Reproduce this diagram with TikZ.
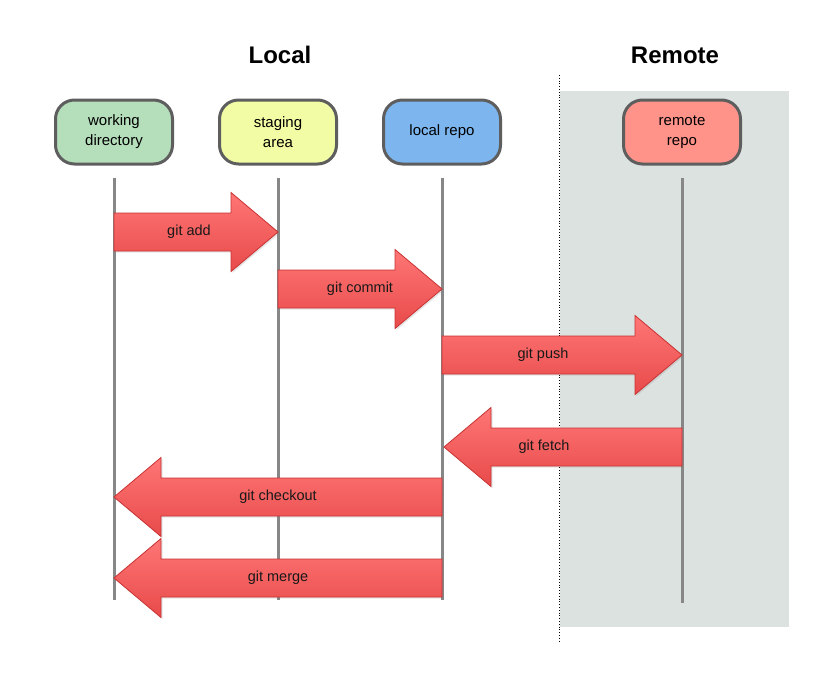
\documentclass[tikz,border=0pt]{standalone}
\usepackage{fontspec}
\setmainfont{Liberation Sans}
\usetikzlibrary{calc,shadows}
\definecolor{wdgreen}{HTML}{B5DEBB}
\definecolor{sayellow}{HTML}{F2FCA4}
\definecolor{lrblue}{HTML}{7DB6EE}
\definecolor{rrpink}{HTML}{FF938A}
\definecolor{remotegray}{HTML}{DCE2DF}
\definecolor{repoline}{HTML}{5E5E5E}
\definecolor{lifegray}{HTML}{878787}
\definecolor{arrowtop}{HTML}{FF7676}
\definecolor{arrowbot}{HTML}{E84A4A}
\definecolor{arrowline}{HTML}{C83232}
\tikzset
{
    repo/.style      = {rectangle, rounded corners=19pt, draw=repoline, line width=3pt, minimum width=117pt, minimum height=64pt, inner sep=2pt, align=center, font=\fontsize{15}{20}\selectfont},
    lifeline/.style  = {draw=lifegray, line width=3pt},
    gitarrow/.style  = {draw=arrowline, line width=0.8pt, top color=arrowtop, bottom color=arrowbot,
                        drop shadow={opacity=0.2, shadow xshift=1.5pt, shadow yshift=-1.5pt},
                        to path={let \p1=(\tikztostart), \p2=(\tikztotarget), \n1={ifthenelse(\x2>\x1,1,-1)} in
                          (\x1,\y1+\ARRBODY) -- (\x2-\n1*\ARRTIP,\y1+\ARRBODY) -- (\x2-\n1*\ARRTIP,\y1+\ARRHEAD)
                          -- (\x2,\y1) -- (\x2-\n1*\ARRTIP,\y1-\ARRHEAD) -- (\x2-\n1*\ARRTIP,\y1-\ARRBODY)
                          -- (\x1,\y1-\ARRBODY) -- cycle}},
    gitlabel/.style  = {font=\fontsize{14.5}{17}\selectfont, text=black!90},
    title/.style     = {font=\bfseries\fontsize{24}{28}\selectfont}
}

\begin{document}
\begin{tikzpicture}[x=1pt, y=-1pt]

	 \newcommand\ARRBODY{19}
	 \newcommand\ARRHEAD{39.5}
	 \newcommand\ARRTIP{47}
	 \newcommand\LIFEEND{600}

   \useasboundingbox[fill=white] (0,0) rectangle (840,685);

   % remote side
   \fill[remotegray] (560,91) rectangle (789,627);
   \draw[dotted, line width=0.8pt] (559,75) -- (559,642);

   \node (local)  [title] at (280,55) {Local};
   \node (remote) [title] at (675,55) {Remote};

   \node (wd)	[repo, fill=wdgreen] 		at (114,132)	{working\\directory};
   \node (sa)	[repo, fill=sayellow] 		at (278,132)	{staging\\area};
   \node (lr)	[repo, fill=lrblue] 		at (442,132)	{local repo};
   \node (rr)	[repo, fill=rrpink] 		at (682,132)	{remote\\repo};

   \draw[lifeline] ([yshift=-12pt]wd.south) -- (wd |- 0,\LIFEEND);
   \draw[lifeline] ([yshift=-12pt]sa.south) -- (sa |- 0,\LIFEEND);
   \draw[lifeline] ([yshift=-12pt]lr.south) -- (lr |- 0,\LIFEEND);
   \draw[lifeline] ([yshift=-12pt]rr.south) -- (rr |- 0,603);

   % arrow ends on the lifelines
   \coordinate (add-s)      at (wd |- 0,232);
   \coordinate (add-t)      at (sa |- 0,232);
   \coordinate (commit-s)   at (sa |- 0,289);
   \coordinate (commit-t)   at (lr |- 0,289);
   \coordinate (push-s)     at (lr |- 0,355);
   \coordinate (push-t)     at (rr |- 0,355);
   \coordinate (fetch-s)    at (rr |- 0,447);
   \coordinate (fetch-t)    at ([xshift=2pt]lr |- 0,447);
   \coordinate (checkout-s) at (lr |- 0,497);
   \coordinate (checkout-t) at (wd |- 0,497);
   \coordinate (merge-s)    at (lr |- 0,578);
   \coordinate (merge-t)    at (wd |- 0,578);

   \draw[gitarrow] (add-s)      to (add-t);
   \draw[gitarrow] (commit-s)   to (commit-t);
   \draw[gitarrow] (push-s)     to (push-t);
   \draw[gitarrow] (fetch-s)    to (fetch-t);
   \draw[gitarrow] (checkout-s) to (checkout-t);
   \draw[gitarrow] (merge-s)    to (merge-t);

   \node (addl)      [gitlabel] at ([xshift=-7pt]$(add-s)!.5!(add-t)$)        {git add};
   \node (commitl)   [gitlabel] at ($(commit-s)!.5!(commit-t)$)               {git commit};
   \node (pushl)     [gitlabel] at ([xshift=-19pt]$(push-s)!.5!(push-t)$)     {git push};
   \node (fetchl)    [gitlabel] at ([xshift=-19pt]$(fetch-s)!.5!(fetch-t)$)   {git fetch};
   \node (checkoutl) [gitlabel] at ($(checkout-s)!.5!(checkout-t)$)           {git checkout};
   \node (mergel)    [gitlabel] at ($(merge-s)!.5!(merge-t)$)                 {git merge};
\end{tikzpicture}
\end{document}
